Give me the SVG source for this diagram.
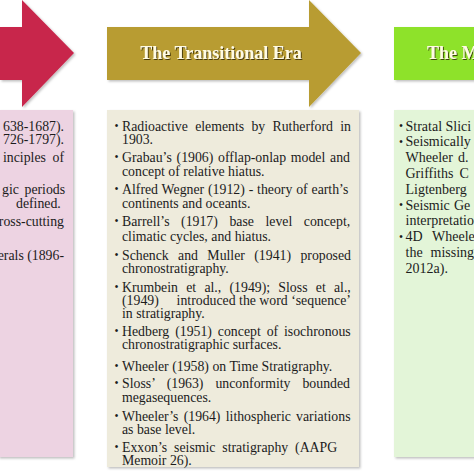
<svg xmlns="http://www.w3.org/2000/svg" width="474" height="474" viewBox="0 0 474 474">
<defs>
<filter id="sh" x="-10%" y="-10%" width="130%" height="130%">
<feDropShadow dx="1.5" dy="1.5" stdDeviation="1.2" flood-color="#000" flood-opacity="0.25"/>
</filter>
<filter id="tsh" x="-10%" y="-30%" width="130%" height="160%">
<feDropShadow dx="1" dy="1" stdDeviation="0.6" flood-color="#2a2200" flood-opacity="0.8"/>
</filter>
</defs>
<style>
.t{font-family:"Liberation Serif","Times New Roman",serif;font-size:13.8px;fill:#1c1c1c}
.g{font-family:"Liberation Serif","Times New Roman",serif;font-size:14px;fill:#1c1c1c}
.b{font-size:11.5px}
.h{font-family:"Liberation Serif","Times New Roman",serif;font-size:18px;font-weight:bold;fill:#fffbe4}
</style>
<rect width="474" height="474" fill="#ffffff"/>

<g id="era-early">
<path d="M0,27 H22 V0 L74,53 L22,107 V80 H0 Z" fill="#c8264b" filter="url(#sh)"/>
<rect x="-2" y="110" width="75" height="347" fill="#edd3e2" filter="url(#sh)"/>
<text class="t" x="64" y="130.7" text-anchor="end">638-1687).</text>
<text class="t" x="64" y="144.2" text-anchor="end">726-1797).</text>
<text class="t" y="161.7"><tspan x="3">inciples</tspan><tspan x="52.5">of</tspan></text>
<text class="t" y="193.7"><tspan x="2">gic</tspan><tspan x="24.5">periods</tspan></text>
<text class="t" x="16" y="207.7">defined.</text>
<text class="t" x="64" y="225.7" text-anchor="end">ross-cutting</text>
<text class="t" x="64" y="259.7" text-anchor="end">erals (1896-</text>
</g>

<g id="era-transitional">
<path d="M107,27 H309 V0 L361,53 L309,107 V80 H107 Z" fill="#b89c31" filter="url(#sh)"/>
<text class="h" x="221" y="59" text-anchor="middle" filter="url(#tsh)">The Transitional Era</text>
<rect x="107" y="110" width="252" height="357" fill="#eeebdc" filter="url(#sh)"/>
<text class="t b" x="114.5" y="130.2">•</text>
<text class="t" x="122" y="130.7" word-spacing="3.8">Radioactive elements by Rutherford in</text>
<text class="t" x="122" y="144.2">1903.</text>
<text class="t b" x="114.5" y="161.2">•</text>
<text class="t" x="122" y="161.7" word-spacing="1.3">Grabau’s (1906) offlap-onlap model and</text>
<text class="t" x="122" y="175.7">concept of relative hiatus.</text>
<text class="t b" x="114.5" y="193.2">•</text>
<text class="t" x="122" y="193.7" word-spacing="0.4">Alfred Wegner (1912) - theory of earth’s</text>
<text class="t" x="122" y="207.7">continents and oceants.</text>
<text class="t b" x="114.5" y="225.2">•</text>
<text class="t" x="122" y="225.7" word-spacing="8.1">Barrell’s (1917) base level concept,</text>
<text class="t" x="122" y="240.7">climatic cycles, and hiatus.</text>
<text class="t b" x="114.5" y="259.2">•</text>
<text class="t" x="122" y="259.7" word-spacing="5.9">Schenck and Muller (1941) proposed</text>
<text class="t" x="122" y="272.7">chronostratigraphy.</text>
<text class="t b" x="114.5" y="291.2">•</text>
<text class="t" x="122" y="291.7" word-spacing="4.8">Krumbein et al., (1949); Sloss et al.,</text>
<text class="t" y="304.7"><tspan x="122">(1949)</tspan><tspan x="176.6">introduced the word ‘sequence’</tspan></text>
<text class="t" x="122" y="318.2">in stratigraphy.</text>
<text class="t b" x="114.5" y="335.2">•</text>
<text class="t" x="122" y="335.7" word-spacing="2.45">Hedberg (1951) concept of isochronous</text>
<text class="t" x="122" y="349.2">chronostratigraphic surfaces.</text>
<text class="t b" x="114.5" y="370.2">•</text>
<text class="t" x="122" y="370.7">Wheeler (1958) on Time Stratigraphy.</text>
<text class="t b" x="114.5" y="387.2">•</text>
<text class="t" x="122" y="387.7" word-spacing="8.5">Sloss’ (1963) unconformity bounded</text>
<text class="t" x="122" y="401.7">megasequences.</text>
<text class="t b" x="114.5" y="420.2">•</text>
<text class="t" x="122" y="420.7" word-spacing="1.8">Wheeler’s (1964) lithospheric variations</text>
<text class="t" x="122" y="433.7">as base level.</text>
<text class="t b" x="114.5" y="451.2">•</text>
<text class="t" x="122" y="451.7" word-spacing="3.4">Exxon’s seismic stratigraphy (AAPG</text>
<text class="t" x="122" y="465.2">Memoir 26).</text>
</g>

<g id="era-modern">
<rect x="394" y="27" width="90" height="53" fill="#8ee22c" filter="url(#sh)"/>
<text class="h" x="427" y="59" filter="url(#tsh)">The M</text>
<rect x="394" y="110" width="90" height="347" fill="#e3f5d8" filter="url(#sh)"/>
<text class="g b" x="399" y="130">•</text>
<text class="g" x="405.5" y="130.5">Stratal Slici</text>
<text class="g b" x="399" y="145.8">•</text>
<text class="g" x="405.5" y="146.3">Seismically</text>
<text class="g" y="162.1"><tspan x="405.5">Wheeler</tspan><tspan x="458">d.</tspan></text>
<text class="g" y="177.9"><tspan x="405.5">Griffiths</tspan><tspan x="459.5">C</tspan></text>
<text class="g" x="405.5" y="193.7">Ligtenberg</text>
<text class="g b" x="399" y="209">•</text>
<text class="g" y="209.5"><tspan x="405.5">Seismic</tspan><tspan x="454">Ge</tspan></text>
<text class="g" x="405.5" y="225.3">interpretatio</text>
<text class="g b" x="399" y="240.6">•</text>
<text class="g" y="241.1"><tspan x="405.5">4D</tspan><tspan x="432">Wheele</tspan></text>
<text class="g" y="256.9"><tspan x="405.5">the</tspan><tspan x="430.5">missing</tspan></text>
<text class="g" x="405.5" y="272.7">2012a).</text>
</g>
</svg>
